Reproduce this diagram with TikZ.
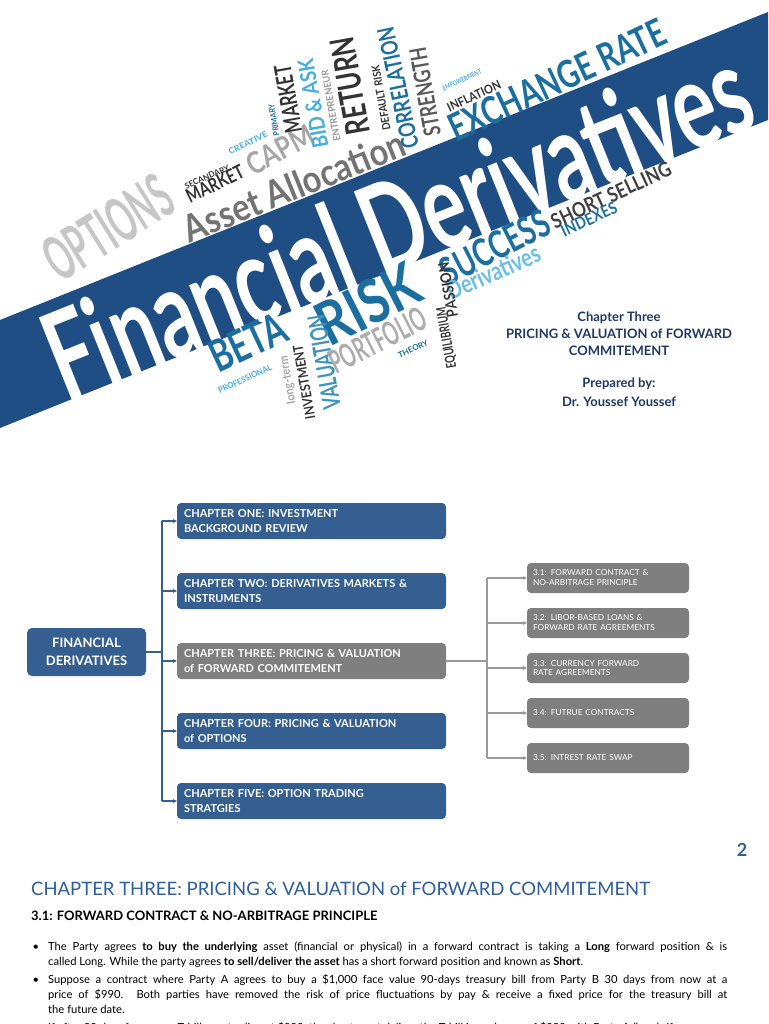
\documentclass[tikz,border=0pt]{standalone}
\usepackage{fontspec}
\setmainfont{Lato}
\usetikzlibrary{arrows.meta,positioning}
\definecolor{band}{HTML}{1F4E85}
\definecolor{bbox}{HTML}{365F91}
\definecolor{gbox}{HTML}{7F7F7F}
\definecolor{navy}{HTML}{1F3864}
\definecolor{teal}{HTML}{1A6FA0}
\definecolor{cyan1}{HTML}{45AEE0}
\definecolor{head}{HTML}{2E5E9E}
\newcommand{\fs}[1]{\fontsize{#1}{#1}\selectfont\setlength{\baselineskip}{1.2\baselineskip}}
\newcommand{\cw}[7]{\node[inner sep=0pt,text=#4,rotate=#3] at (#1,#2) {\resizebox{#5pt}{#6pt}{\bfseries #7}};}
\tikzset{
  chap/.style={rounded corners=4pt,fill=bbox,text=white,minimum width=269pt,minimum height=36pt,text width=255pt,align=left,font=\fs{11}\bfseries,inner sep=0pt},
  sub/.style={rounded corners=4pt,fill=gbox,text=white,minimum width=162pt,minimum height=30pt,text width=150pt,align=left,font=\fs{8.3},inner sep=0pt},
  barr/.style={draw=bbox,line width=1.2pt,-{Stealth[length=4pt,width=4pt]}},
  garr/.style={draw=gray!80,line width=1.2pt,-{Stealth[length=4pt,width=4pt]}},
  rt/.style={text=navy,font=\fs{13}\bfseries,align=center,inner sep=0pt}
}
\begin{document}
\begin{tikzpicture}[x=1pt,y=-1pt]
\useasboundingbox (0,0) rectangle (768,1024);
\fill[white] (0,0) rectangle (768,1024);
% band
\fill[band] (0,320) -- (768,12) -- (768,120) -- (0,428) -- cycle;
\node[rotate=21.8,text=white,inner sep=0pt] (title) at (397,222) {\resizebox{748pt}{92pt}{\bfseries Financial Derivatives}};
% word cloud
\cw{108}{228}{32}{gray!45}{140}{45}{OPTIONS}
\cw{207}{177}{24}{black!80}{48}{6}{SECANDARY}
\cw{215}{184}{26}{black!80}{62}{14}{MARKET}
\cw{294}{186}{22}{black!55}{236}{28}{Asset Allocation}
\cw{280}{150}{28}{gray!70}{72}{22}{CAPM}
\cw{248}{143}{25}{cyan1}{42}{6}{CREATIVE}
\cw{274}{120}{100}{teal}{32}{6}{PRIMARY}
\cw{288}{99}{100}{black!80}{68}{17}{MARKET}
\cw{313}{104}{100}{cyan1}{90}{16}{BID \& ASK}
\cw{331}{106}{100}{gray!80}{72}{7}{ENTREPRENEUR}
\cw{350}{86}{100}{black!80}{98}{24}{RETURN}
\cw{381}{98}{100}{black!80}{66}{8}{DEFAULT RISK}
\cw{398}{88}{102}{teal}{124}{17}{CORRELATION}
\cw{425}{92}{100}{black!65}{90}{17}{STRENGTH}
\cw{462}{80}{25}{cyan1}{42}{5}{EMPOWERMENT}
\cw{474}{96}{25}{black!80}{58}{9}{INFLATION}
\cw{557}{80}{25}{teal}{235}{28}{EXCHANGE RATE}
\cw{611}{195}{25}{black!75}{130}{15}{SHORT SELLING}
\cw{589}{219}{25}{teal}{60}{12}{INDEXES}
\cw{495}{247}{27}{teal}{118}{28}{SUCCESS}
\cw{493}{272}{24}{cyan1!80}{100}{19}{Derivatives}
\cw{448}{290}{100}{black!80}{55}{11}{PASSION}
\cw{368}{304}{27}{teal}{108}{44}{RISK}
\cw{248}{342}{25}{teal}{80}{32}{BETA}
\cw{245}{379}{25}{cyan1}{58}{6}{PROFESSIONAL}
\cw{288}{380}{100}{gray!70}{48}{9}{long-term}
\cw{304}{382}{100}{black!80}{75}{10}{INVESTMENT}
\cw{324}{362}{100}{cyan1!85!black}{95}{18}{VALUATION}
\cw{378}{340}{27}{gray!65}{105}{24}{PORTFOLIO}
\cw{413}{349}{25}{teal}{32}{6}{THEORY}
\cw{447}{338}{100}{black!80}{62}{10}{EQUILIBRIUM}
% right text
\node[rt] (ct) at (619,318) {Chapter Three};
\node[rt] (pv) at (619,342) {PRICING \& VALUATION of FORWARD\\[1pt]COMMITEMENT};
\node[rt] (pb) at (619,384) {Prepared by:};
\node[rt] (dr) at (619,402) {Dr. Youssef Youssef};
% tree
\node[rounded corners=5pt,fill=bbox,text=white,minimum width=119pt,minimum height=48pt,align=center,font=\fs{13}\bfseries,inner sep=0pt] (root) at (86.5,652) {FINANCIAL\\[2pt]DERIVATIVES};
\node[chap] (c1) at (311.5,521) {CHAPTER ONE: INVESTMENT\\[2pt]BACKGROUND REVIEW};
\node[chap] (c2) at (311.5,591) {CHAPTER TWO: DERIVATIVES MARKETS \&\\[2pt]INSTRUMENTS};
\node[chap,fill=gbox] (c3) at (311.5,661) {CHAPTER THREE: PRICING \& VALUATION\\[2pt]of FORWARD COMMITEMENT};
\node[chap] (c4) at (311.5,731) {CHAPTER FOUR: PRICING \& VALUATION\\[2pt]of OPTIONS};
\node[chap] (c5) at (311.5,801) {CHAPTER FIVE: OPTION TRADING\\[2pt]STRATGIES};
\coordinate (bus) at (162,652);
\draw[draw=bbox,line width=1.2pt] (root.east) -- (bus);
\foreach \c in {c1,c2,c3,c4,c5} \draw[barr] (bus |- \c.west) -- (\c.west);
\draw[draw=bbox,line width=1.2pt] (bus |- c1.west) -- (bus |- c5.west);
\node[sub] (s1) at (608,578) {3.1: FORWARD CONTRACT \&\\NO-ARBITRAGE PRINCIPLE};
\node[sub] (s2) at (608,623) {3.2: LIBOR-BASED LOANS \&\\FORWARD RATE AGREEMENTS};
\node[sub] (s3) at (608,668) {3.3: CURRENCY FORWARD\\RATE AGREEMENTS};
\node[sub] (s4) at (608,713) {3.4: FUTRUE CONTRACTS};
\node[sub] (s5) at (608,758) {3.5: INTREST RATE SWAP};
\coordinate (gb) at (487,661);
\draw[draw=gray!80,line width=1.4pt] (c3.east) -- (gb);
\draw[draw=gray!80,line width=1.2pt] (gb |- s1.west) -- (gb |- s5.west);
\foreach \s in {s1,s2,s3,s4,s5} \draw[garr] (gb |- \s.west) -- (\s.west);
% page number
\node[text=head,font=\fs{18}\bfseries,inner sep=0pt] (pn) at (742,850) {2};
% bottom text
\node[text=head,font=\fs{18.5},inner sep=0pt,anchor=west] (h1) at (31,889) {CHAPTER THREE: PRICING \& VALUATION of FORWARD COMMITEMENT};
\node[font=\fs{13}\bfseries,inner sep=0pt,anchor=west] (h2) at (31,916) {3.1: FORWARD CONTRACT \& NO-ARBITRAGE PRINCIPLE};
\begin{scope}
\clip (0,0) rectangle (768,1024);
\node[anchor=north west,inner sep=0pt,text width=696pt,font=\fs{11.2},align=justify] (body) at (31,935) {%
\setlength{\baselineskip}{15pt}%
\begin{list}{\textbullet}{\leftmargin=17pt\labelwidth=8pt\labelsep=9pt\itemsep=3pt\parsep=0pt\topsep=0pt}
\item The Party agrees \textbf{to buy the underlying} asset (financial or physical) in a forward contract is taking a \textbf{Long} forward position \& is\linebreak called Long. While the party agrees \textbf{to sell/deliver the asset} has a short forward position and known as \textbf{Short}.
\item Suppose a contract where Party A agrees to buy a \$1,000 face value 90-days treasury bill from Party B 30 days from now at a\linebreak price of \$990. Both parties have removed the risk of price fluctuations by pay \& receive a fixed price for the treasury bill at\linebreak the future date.
\item If after 30 days from now, T-bills are trading at \$992, the short must deliver the T-bill in exchange of \$990 with Party A (long). If
\end{list}};
\end{scope}
\end{tikzpicture}
\end{document}
